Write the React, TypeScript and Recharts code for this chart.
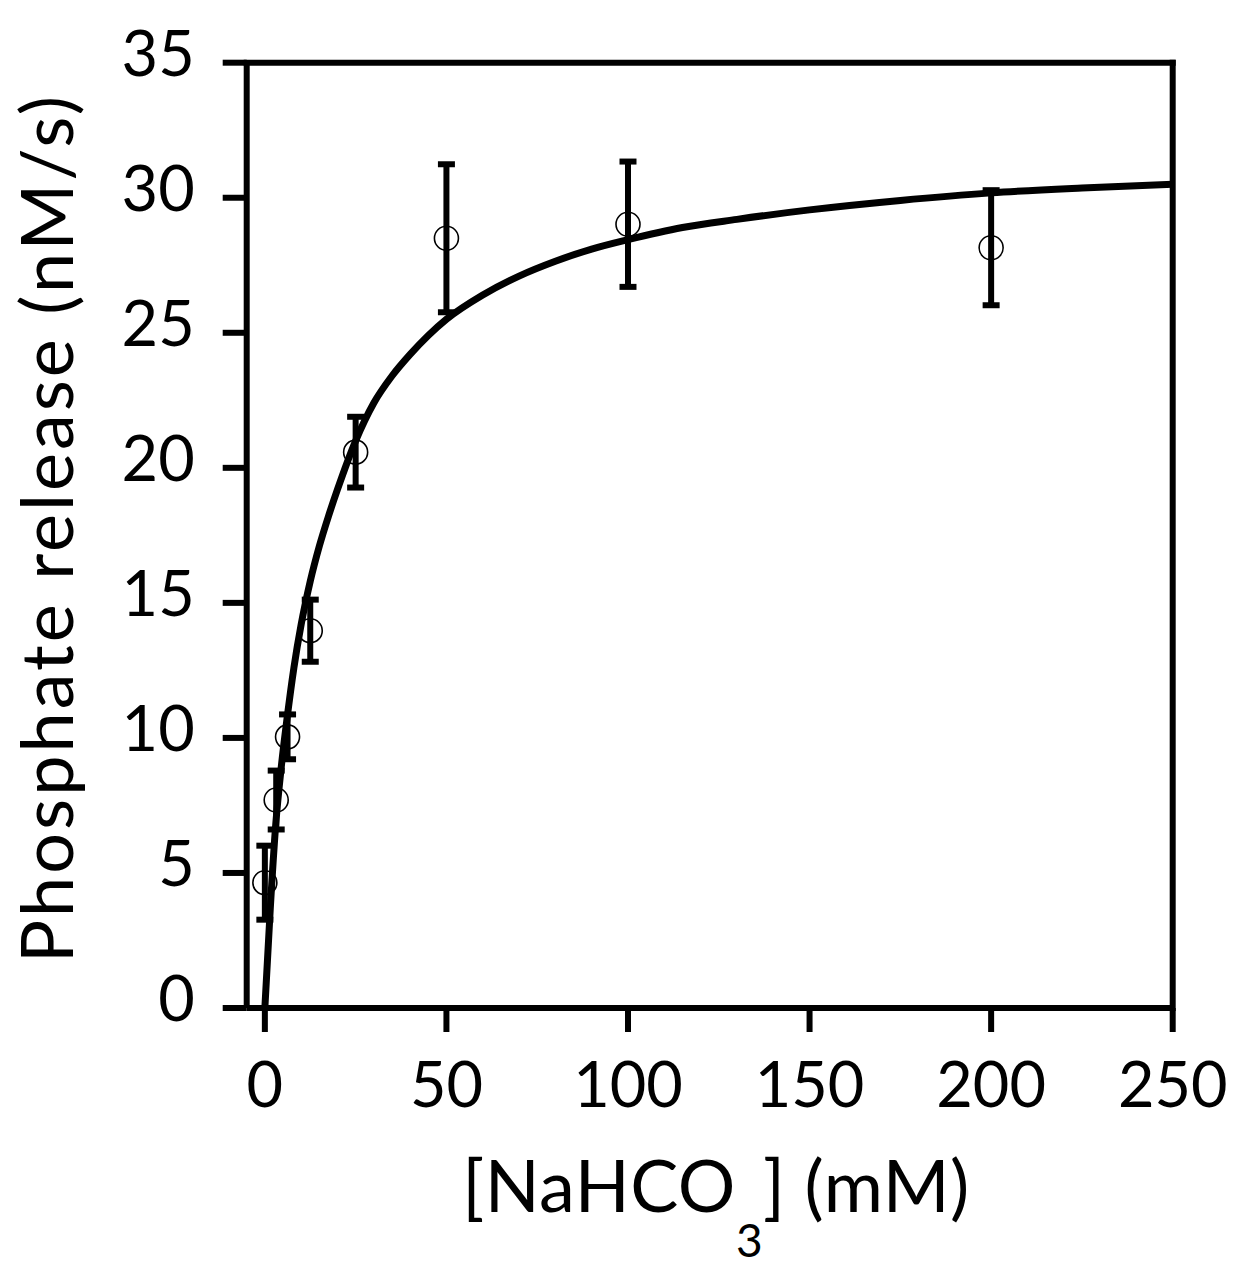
import React from "react";
import { ComposedChart, ErrorBar, Line, ReferenceLine, Scatter, XAxis, YAxis } from "recharts";

// measured points
const concentrations = [0, 3.125, 6.25, 12.5, 25, 50, 100, 200];
const rates = [4.64, 7.7, 10.04, 13.97, 20.58, 28.5, 29.02, 28.15];
const rateErrors = [1.37, 1.09, 0.83, 1.15, 1.31, 2.74, 2.32, 2.13];

// fitted curve
const fitX = [0, 1.5, 3, 4.5, 6, 8, 10, 12.5, 15, 17.5, 20, 25, 30, 35, 40, 45, 50, 60, 70, 80, 90, 100, 115, 130, 150, 175, 200, 225, 250];
const fitY = [0, 3.7, 6.8, 8.9, 10.6, 12.6, 14.2, 15.8, 17.1, 18.2, 19.2, 21.0, 22.4, 23.4, 24.2, 24.9, 25.5, 26.4, 27.1, 27.65, 28.1, 28.45, 28.9, 29.2, 29.55, 29.9, 30.18, 30.36, 30.5];

const xTicks = [0, 50, 100, 150, 200, 250];
const yTicks = [0, 5, 10, 15, 20, 25, 30, 35];

const FONT = "Lato, 'Open Sans', sans-serif";
const W = 1250;
const H = 1273;

const points = concentrations.map((x, i) => ({ x, y: rates[i], err: rateErrors[i] }));
const fit = fitX.map((x, i) => ({ x, y: fitY[i] }));

function Ring(props: any) {
  if (props.cx == null || props.cy == null) return null;
  return <circle cx={props.cx} cy={props.cy} r={12} fill="none" stroke="#000" strokeWidth={1.6} />;
}

function XLabel() {
  return (
    <text x={716} y={1212} textAnchor="middle" fontFamily={FONT} fontSize={72} letterSpacing={0.5} fill="#000">
      <tspan>[NaHCO</tspan>
      <tspan dy={45} fontSize={46}>3</tspan>
      <tspan dy={-45}>] (mM)</tspan>
    </text>
  );
}

function YLabel() {
  return (
    <text
      x={73}
      y={528}
      transform="rotate(-90 73 528)"
      textAnchor="middle"
      fontFamily={FONT}
      fontSize={72}
      letterSpacing={3}
      fill="#000"
    >
      Phosphate release (nM/s)
    </text>
  );
}

export default function App() {
  const axisStyle = { stroke: "#000", strokeWidth: 6 };
  return (
    <div style={{ width: W, height: H, margin: "-8px 0 0 -8px" }}>
      <ComposedChart width={W} height={H} margin={{ top: 62.7, right: 77.3, left: 86.7, bottom: 105 }}>
        <XAxis
          dataKey="x"
          type="number"
          domain={[-5, 250]}
          ticks={xTicks}
          allowDataOverflow
          axisLine={axisStyle}
          tickLine={axisStyle}
          tickSize={24}
          tickMargin={30}
          height={160}
          tick={{ fontSize: 63, fill: "#000", fontFamily: FONT }}
          label={{ content: () => <XLabel /> }}
        />
        <YAxis
          type="number"
          domain={[0, 35]}
          ticks={yTicks}
          allowDataOverflow
          axisLine={axisStyle}
          tickLine={axisStyle}
          tickSize={24}
          tickMargin={28}
          width={160}
          tick={{ fontSize: 63, fill: "#000", fontFamily: FONT, dy: -9 }}
          label={{ content: () => <YLabel /> }}
        />
        <ReferenceLine y={35} stroke="#000" strokeWidth={6} strokeLinecap="square" />
        <ReferenceLine x={250} stroke="#000" strokeWidth={6} strokeLinecap="square" />
        <Line
          data={fit}
          dataKey="y"
          type="monotone"
          stroke="#000"
          strokeWidth={7}
          dot={false}
          activeDot={false}
          isAnimationActive={false}
        />
        <Scatter data={points} dataKey="y" shape={<Ring />} isAnimationActive={false}>
          <ErrorBar dataKey="err" direction="y" width={8.5} stroke="#000" strokeWidth={6} isAnimationActive={false} />
        </Scatter>
      </ComposedChart>
    </div>
  );
}
